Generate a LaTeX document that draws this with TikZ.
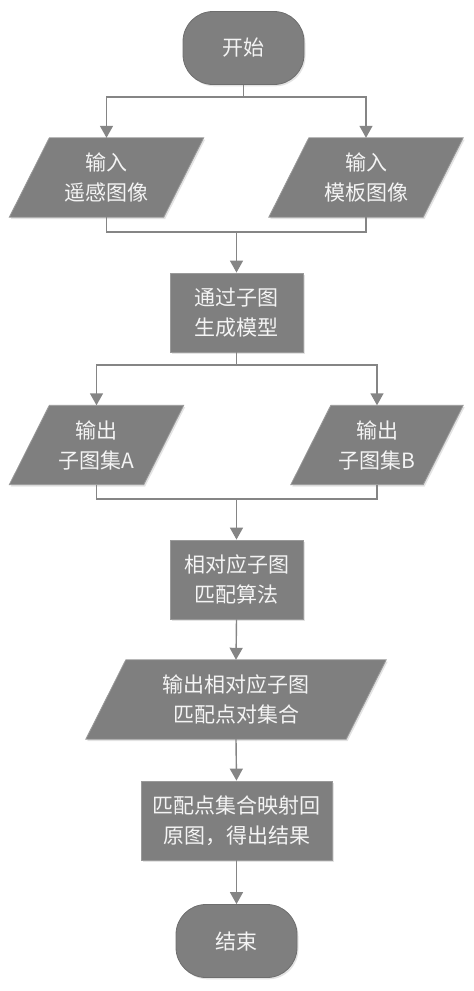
\documentclass[tikz,border=0pt]{standalone}
\usepackage{fontspec}
\setmainfont{Noto Sans CJK SC}
\usetikzlibrary{arrows.meta,shadows}
\definecolor{boxfill}{HTML}{7F7F7F}
\definecolor{boxline}{HTML}{9A9A9A}
\definecolor{termline}{HTML}{6E6E6E}
\definecolor{lnk}{HTML}{858585}
\definecolor{txt}{HTML}{F4F4F4}
\pgfdeclarelayer{bg}
\pgfsetlayers{bg,main}
\begin{document}
\begin{tikzpicture}[x=1pt,y=-1pt,
  shade/.style={drop shadow={opacity=0.22,shadow xshift=1.5pt,shadow yshift=-1.8pt}},
  labelfont/.style={text=txt,align=center,font=\fontsize{21}{30}\selectfont,inner sep=0pt},
  procbox/.style={labelfont,shade,rectangle,fill=boxfill,draw=boxline,line width=0.8pt,minimum height=79pt},
  termbox/.style={labelfont,shade,rectangle,fill=boxfill,draw=termline,line width=0.8pt,rounded corners=30pt,minimum width=121pt,minimum height=73pt},
  paratext/.style={labelfont,rectangle,minimum height=79pt},
  parashape/.style={fill=boxfill,draw=boxline,line width=0.8pt,shade},
  link/.style={draw=lnk,line width=1.4pt},
  arr/.style={link,-{Triangle[width=13pt,length=12pt]}},
]
\useasboundingbox (0,0) rectangle (474,991);

\node[termbox] (start) at (243.5,48) {开始};
\node[paratext,minimum width=154pt] (in1) at (106.5,177.5) {输入\\遥感图像};
\node[paratext,minimum width=154pt] (in2) at (366,177.5) {输入\\模板图像};
\node[procbox,minimum width=133pt] (gen) at (236.5,312.5) {通过子图\\生成模型};
\node[paratext,minimum width=134pt] (outA) at (96.5,445) {输出\\子图集A};
\node[paratext,minimum width=132pt] (outB) at (377,445) {输出\\子图集B};
\node[procbox,minimum width=133pt] (match) at (236.5,579.5) {相对应子图\\匹配算法};
\node[paratext,minimum width=260pt] (pairs) at (236,699.5) {输出相对应子图\\匹配点对集合};
\node[procbox,minimum width=191pt] (map) at (236.5,820.5) {匹配点集合映射回\\原图，得出结果};
\node[termbox] (end) at (236.5,941) {结束};

\begin{pgfonlayer}{bg}
  \foreach \n in {in1,in2,outA,outB,pairs}{
    \path[parashape] ([xshift=20pt]\n.north west) -- ([xshift=20pt]\n.north east)
      -- ([xshift=-20pt]\n.south east) -- ([xshift=-20pt]\n.south west) -- cycle;
  }
\end{pgfonlayer}

\coordinate (b1) at (243.5,97);
\coordinate (m1) at (236.5,232);
\coordinate (b2) at (236.5,365);
\coordinate (m2) at (236.5,499);

\draw[link] (start.south) -- (b1);
\draw[arr] (b1) -| (in1.north);
\draw[arr] (b1) -| (in2.north);
\draw[link] (in1.south) |- (m1);
\draw[link] (in2.south) |- (m1);
\draw[arr] (m1) -- (gen.north);
\draw[link] (gen.south) -- (b2);
\draw[arr] (b2) -| (outA.north);
\draw[arr] (b2) -| (outB.north);
\draw[link] (outA.south) |- (m2);
\draw[link] (outB.south) |- (m2);
\draw[arr] (m2) -- (match.north);
\draw[arr] (match.south) -- (pairs.north);
\draw[arr] (pairs.south) -- (map.north);
\draw[arr] (map.south) -- (end.north);
\end{tikzpicture}
\end{document}
